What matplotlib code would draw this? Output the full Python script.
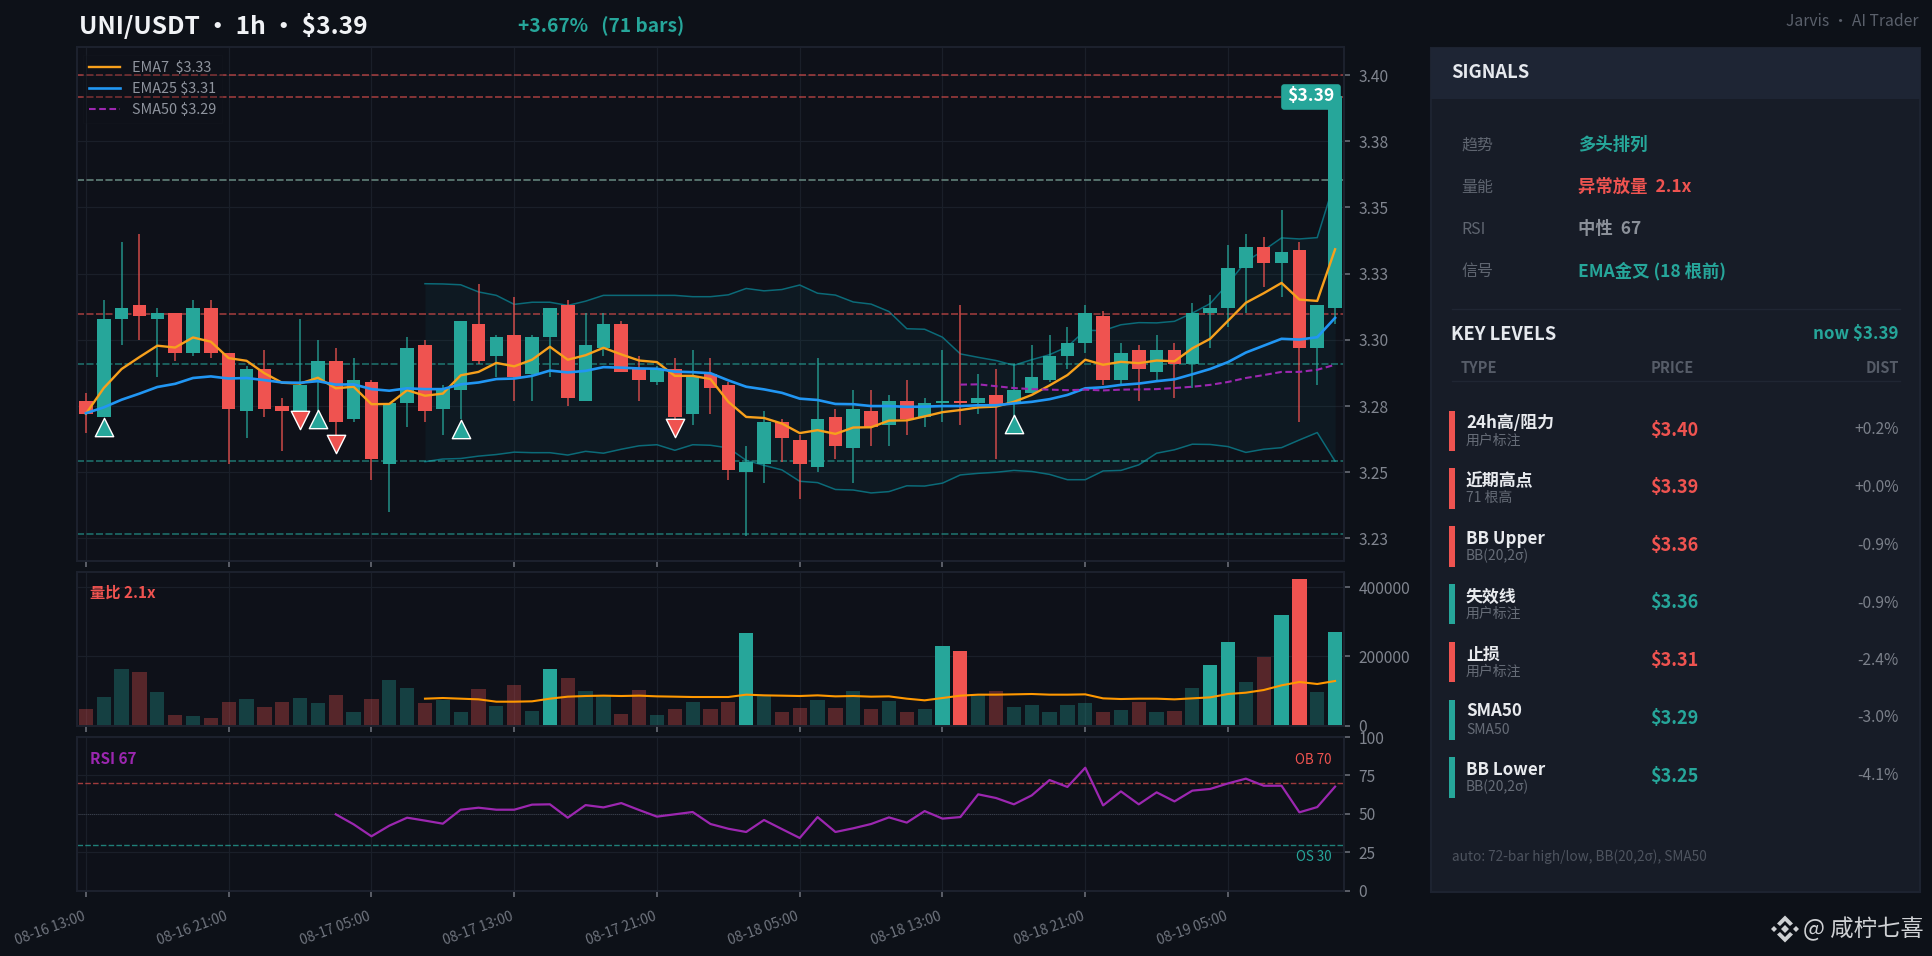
import numpy as np
import matplotlib
matplotlib.use('Agg')
import matplotlib.pyplot as plt
from matplotlib.colors import to_rgba
from matplotlib.patches import Rectangle, Polygon, FancyBboxPatch
from matplotlib.transforms import ScaledTranslation

plt.rcParams['font.family'] = ['Noto Sans CJK SC', 'DejaVu Sans']

# ---------- data ----------
opens = [3.277,3.271,3.308,3.313,3.308,3.310,3.295,3.312,3.295,3.273,3.289,3.275,3.273,3.284,3.292,3.270,3.284,3.253,3.276,3.298,
         3.274,3.281,3.306,3.294,3.302,3.287,3.301,3.313,3.277,3.297,3.306,3.289,3.284,3.289,3.272,3.287,3.283,3.250,3.253,3.269,
         3.262,3.252,3.271,3.259,3.273,3.268,3.277,3.271,3.276,3.277,3.276,3.279,3.276,3.280,3.285,3.294,3.299,3.309,3.285,3.296,
         3.288,3.296,3.291,3.310,3.312,3.327,3.335,3.329,3.334,3.297,3.312]
closes = [3.272,3.308,3.312,3.309,3.310,3.295,3.312,3.295,3.274,3.289,3.274,3.273,3.283,3.292,3.269,3.285,3.255,3.276,3.297,3.273,
          3.282,3.307,3.292,3.301,3.286,3.301,3.312,3.278,3.298,3.306,3.288,3.285,3.289,3.271,3.286,3.282,3.251,3.254,3.269,3.263,
          3.253,3.270,3.260,3.274,3.267,3.277,3.270,3.276,3.277,3.276,3.278,3.275,3.281,3.286,3.294,3.299,3.310,3.285,3.295,3.289,
          3.296,3.291,3.310,3.312,3.327,3.335,3.329,3.333,3.297,3.313,3.392]
highs = [3.280,3.315,3.337,3.340,3.312,3.310,3.315,3.315,3.295,3.290,3.296,3.278,3.308,3.300,3.297,3.293,3.285,3.276,3.301,3.300,
         3.283,3.307,3.321,3.302,3.316,3.302,3.312,3.315,3.310,3.310,3.307,3.294,3.290,3.293,3.296,3.293,3.284,3.260,3.273,3.270,
         3.264,3.293,3.274,3.281,3.281,3.279,3.285,3.278,3.296,3.313,3.287,3.289,3.291,3.298,3.302,3.305,3.313,3.311,3.299,3.298,
         3.302,3.299,3.314,3.317,3.336,3.340,3.339,3.349,3.337,3.313,3.392]
lows = [3.265,3.271,3.298,3.300,3.286,3.292,3.294,3.293,3.253,3.263,3.271,3.258,3.271,3.273,3.264,3.269,3.247,3.235,3.267,3.269,
        3.264,3.270,3.291,3.286,3.277,3.277,3.286,3.275,3.277,3.294,3.288,3.277,3.283,3.270,3.268,3.272,3.247,3.226,3.246,3.254,
        3.240,3.250,3.255,3.246,3.260,3.260,3.264,3.267,3.269,3.268,3.272,3.255,3.271,3.280,3.284,3.289,3.295,3.283,3.283,3.277,
        3.285,3.278,3.282,3.297,3.305,3.310,3.320,3.316,3.269,3.283,3.306]
ema7 = [3.2721,3.2818,3.2890,3.2935,3.2978,3.2971,3.3009,3.2993,3.2931,3.2921,3.2874,3.2838,3.2835,3.2857,3.2817,3.2823,3.2757,3.2758,3.2810,3.2789,
        3.2797,3.2866,3.2879,3.2913,3.2900,3.2925,3.2974,3.2925,3.2942,3.2970,3.2945,3.2922,3.2916,3.2864,3.2864,3.2852,3.2766,3.2709,3.2705,3.2684,
        3.2648,3.2659,3.2645,3.2669,3.2670,3.2695,3.2696,3.2711,3.2727,3.2735,3.2745,3.2748,3.2766,3.2792,3.2828,3.2867,3.2925,3.2906,3.2917,3.2912,
        3.2922,3.2919,3.2968,3.3004,3.3072,3.3140,3.3176,3.3215,3.3152,3.3147,3.3342]
ema25 = [3.2723,3.2745,3.2774,3.2797,3.2822,3.2834,3.2856,3.2862,3.2854,3.2856,3.2848,3.2839,3.2838,3.2844,3.2831,3.2832,3.2814,3.2808,3.2817,3.2814,
         3.2814,3.2832,3.2839,3.2852,3.2854,3.2864,3.2884,3.2877,3.2883,3.2897,3.2895,3.2892,3.2891,3.2880,3.2878,3.2874,3.2847,3.2823,3.2813,3.2800,
         3.2778,3.2773,3.2758,3.2757,3.2750,3.2750,3.2747,3.2748,3.2750,3.2750,3.2753,3.2753,3.2760,3.2766,3.2776,3.2792,3.2817,3.2821,3.2830,3.2835,
         3.2844,3.2851,3.2870,3.2890,3.2916,3.2952,3.2978,3.3004,3.3001,3.3010,3.3083]
sma50_start = 49
sma50 = [3.2831,3.2832,3.2825,3.2818,3.2814,3.2812,3.2810,3.2812,3.2809,3.2812,3.2813,3.2814,3.2818,3.2823,3.2830,3.2841,3.2856,3.2867,3.2879,3.2879,3.2887,3.2906]
bb_start = 19
bb_upper = [3.3212,3.3211,3.3208,3.3181,3.3168,3.3134,3.3142,3.3142,3.3130,3.3146,3.3168,3.3168,3.3168,3.3168,3.3168,3.3163,3.3163,3.3170,3.3194,3.3185,
            3.3190,3.3207,3.3176,3.3169,3.3143,3.3135,3.3107,3.3042,3.3040,3.3010,3.2947,3.2934,3.2922,3.2904,3.2925,3.2944,3.2974,3.3036,3.3035,3.3057,
            3.3065,3.3064,3.3070,3.3101,3.3137,3.3212,3.3296,3.3338,3.3385,3.3381,3.3386,3.3602]
bb_lower = [3.2540,3.2550,3.2552,3.2561,3.2567,3.2576,3.2574,3.2574,3.2565,3.2579,3.2572,3.2587,3.2600,3.2604,3.2583,3.2604,3.2602,3.2592,3.2545,3.2526,
            3.2509,3.2466,3.2461,3.2435,3.2433,3.2422,3.2427,3.2449,3.2448,3.2459,3.2490,3.2496,3.2500,3.2507,3.2503,3.2492,3.2472,3.2472,3.2505,3.2507,
            3.2528,3.2572,3.2585,3.2606,3.2605,3.2597,3.2575,3.2587,3.2593,3.2622,3.2650,3.2542]
volumes = [48200,82900,163900,155200,97400,30800,28000,22200,68400,77100,54000,68400,80000,65500,88700,39500,77100,132100,108900,65500,
           74200,39500,106000,56900,117600,42400,163900,137800,100200,85800,33700,103100,30800,48200,68400,48200,68400,268000,85800,39500,
           51100,74200,51100,100200,48200,71300,39500,48200,230400,215900,88700,100200,54000,59800,39500,59800,65500,39500,45300,68400,
           39500,42400,108900,175400,241900,126300,198600,320000,424100,97400,270900]
vol_ma_start = 19
vol_ma = [78100,80000,78100,76200,69400,69400,70400,78100,83900,85800,86800,85800,86800,84800,83900,82900,82900,82900,89700,
          87700,86800,85800,87700,84800,85800,83900,84800,78100,73300,80000,86800,89700,89700,90600,91600,89700,89700,90600,79000,77100,
          78100,78100,76200,79000,81900,91600,95400,103100,116600,126300,120500,129200]
rsi_start = 14
rsi = [49.7,43.2,35.4,42.3,47.5,45.6,43.6,52.7,54.0,52.7,52.7,56.0,56.2,47.5,55.7,54.2,57.0,52.5,48.2,49.7,51.2,43.4,40.3,38.2,
       46.0,40.1,34.3,47.9,38.2,40.6,43.4,47.7,44.3,51.8,46.9,47.9,62.7,60.3,56.2,62.0,72.0,67.5,80.0,55.5,64.6,56.2,64.0,58.1,65.1,66.2,69.8,72.9,68.3,68.3,51.0,54.4,67.7]
buy_idx = [1, 13, 21, 52]
buy_price = [3.2672, 3.2701, 3.2665, 3.2684]
sell_idx = [12, 14, 33]
sell_price = [3.2696, 3.2606, 3.2666]
red_levels = [3.400, 3.3917, 3.3602, 3.3097]
green_levels = [3.3602, 3.2909, 3.2542, 3.2268]
price_ticks = [3.225, 3.25, 3.275, 3.30, 3.325, 3.35, 3.375, 3.40]
price_labels = ['3.23', '3.25', '3.28', '3.30', '3.33', '3.35', '3.38', '3.40']
x_ticks = [0, 8, 16, 24, 32, 40, 48, 56, 64]
x_labels = ['08-16 13:00', '08-16 21:00', '08-17 05:00', '08-17 13:00', '08-17 21:00', '08-18 05:00', '08-18 13:00', '08-18 21:00', '08-19 05:00']
signal_keys = ['趋势', '量能', 'RSI', '信号']
signal_vals = ['多头排列', '异常放量  2.1x', '中性  67', 'EMA金叉 (18 根前)']
level_names = ['24h高/阻力', '近期高点', 'BB Upper', '失效线', '止损', 'SMA50', 'BB Lower']
level_subs = ['用户标注', '71 根高', 'BB(20,2σ)', '用户标注', '用户标注', 'SMA50', 'BB(20,2σ)']
level_prices = ['$3.40', '$3.39', '$3.36', '$3.36', '$3.31', '$3.29', '$3.25']
level_dists = ['+0.2%', '+0.0%', '-0.9%', '-0.9%', '-2.4%', '-3.0%', '-4.1%']
level_sides = ['r', 'r', 'r', 'g', 'r', 'g', 'g']

# ---------- style ----------
W, H = 1933, 956
BG = '#0d1118'; AX = '#0e1119'; GRID = '#1a1f29'; SPINE = '#1d222e'
UP = '#26a69a'; DN = '#ef5350'; ORANGE = '#f7a01c'; BLUE = '#2196f3'; PURPLE = '#9c27b0'; BBC = '#0b6a78'
TICK = '#80858f'; LABEL = '#8f949e'
PANEL = '#171c27'; HEAD = '#1e2534'; PANEL_EDGE = '#1d2330'

fig = plt.figure(figsize=(W/100, H/100), dpi=100, facecolor=BG)

ov = fig.add_axes([0, 0, 1, 1], zorder=0)
ov.set_xlim(0, W); ov.set_ylim(H, 0); ov.axis('off')

def make_ax(top, bottom):
    l, r = 77, 1344
    ax = fig.add_axes([l/W, 1-bottom/H, (r-l)/W, (bottom-top)/H], facecolor=AX, zorder=2)
    for s in ax.spines.values():
        s.set_color(SPINE); s.set_linewidth(1.4)
    ax.yaxis.tick_right()
    ax.set_xlim(-0.5, 70.5)
    ax.set_xticks(x_ticks)
    ax.set_xticklabels([])
    ax.tick_params(axis='both', length=4.5, width=1.1, color='#6f747d', labelcolor=TICK, labelsize=11.2, pad=6)
    ax.grid(True, color=GRID, lw=0.85)
    ax.set_axisbelow(True)
    return ax

x = np.arange(len(closes))
is_up = np.array(closes) >= np.array(opens)
col = [UP if u else DN for u in is_up]

# ---------- main ----------
ax = make_ax(47.2, 561)
ax.set_ylim(3.2165, 3.4105)
ax.set_yticks(price_ticks); ax.set_yticklabels(price_labels)
xb = np.arange(bb_start, 71)
ax.fill_between(xb, bb_lower, bb_upper, color='#17808c', alpha=0.08, lw=0, zorder=1)
ax.plot(xb, bb_upper, color=BBC, lw=1.1, zorder=1.5)
ax.plot(xb, bb_lower, color=BBC, lw=1.1, zorder=1.5)
for v in red_levels:
    ax.axhline(v, color=DN, lw=1.2, ls=(0, (4.2, 1.5)), alpha=0.62, zorder=1.6)
for v in green_levels:
    ax.axhline(v, color=UP, lw=1.2, ls=(0, (4.2, 1.5)), alpha=0.62, zorder=1.6)
ax.vlines(x, lows, highs, colors=col, lw=1.1, alpha=0.85, zorder=2)
ax.bar(x, np.abs(np.array(closes)-np.array(opens)), bottom=np.minimum(opens, closes), width=0.76, color=col, lw=0, zorder=3)
ax.plot(x, ema7, color=ORANGE, lw=1.7, zorder=4, label='EMA7  $3.33', solid_joinstyle='round')
ax.plot(x, ema25, color=BLUE, lw=1.9, zorder=4, label='EMA25 $3.31')
ax.plot(np.arange(sma50_start, 71), sma50, color=PURPLE, lw=1.5, ls=(0, (3.2, 1.7)), zorder=4, label='SMA50 $3.29')
ax.scatter(buy_idx, buy_price, marker='^', s=175, color=UP, edgecolor='white', lw=1, zorder=6)
ax.scatter(sell_idx, sell_price, marker='v', s=175, color=DN, edgecolor='white', lw=1, zorder=6)
leg = ax.legend(loc='upper left', fontsize=10.4, frameon=True, facecolor=AX, edgecolor='#161a23', framealpha=0.25,
                labelcolor=LABEL, borderaxespad=0, bbox_to_anchor=(0.0047, 0.985), handlelength=2.17,
                labelspacing=0.5, handletextpad=0.81, fancybox=False)
leg.set_zorder(7)
ax.add_patch(FancyBboxPatch((1284, 87), 54, 20, boxstyle='round,pad=2.8,rounding_size=3', transform=ov.transData,
                            fc=UP, ec='none', zorder=8, clip_on=False))
ax.text(1311, 96, '$3.39', transform=ov.transData, ha='center', va='center', color='white',
        fontsize=12.6, fontweight='bold', zorder=9, clip_on=False)

# ---------- volume ----------
ax2 = make_ax(571.7, 725.7)
ax2.set_ylim(0, 445000)
ax2.set_yticks([0, 200000, 400000]); ax2.set_yticklabels(['0', '200000', '400000'])
ma_full = np.full(71, np.nan); ma_full[vol_ma_start:] = vol_ma
bright = np.array(volumes) > 2*np.nan_to_num(ma_full, nan=1e12)
vol_colors = [to_rgba(c, 1.0 if b else 0.32) for c, b in zip(col, bright)]
ax2.bar(x, volumes, width=0.8, color=vol_colors, lw=0, zorder=2)
ax2.plot(np.arange(vol_ma_start, 71), vol_ma, color='#ff9800', lw=1.5, zorder=3)
ax2.text(0.0104, 0.865, '量比 2.1x', transform=ax2.transAxes, color=DN, fontsize=11, fontweight='bold', va='center', ha='left')

# ---------- rsi ----------
ax3 = make_ax(737, 890.7)
ax3.set_ylim(0, 100)
ax3.set_yticks([0, 25, 50, 75, 100])
ax3.axhline(70, color=DN, lw=1.0, ls=(0, (4, 1.6)), alpha=0.65, zorder=1.6)
ax3.axhline(30, color=UP, lw=1.0, ls=(0, (4, 1.6)), alpha=0.75, zorder=1.6)
ax3.axhline(50, color='#6b7280', lw=0.6, ls=(0, (1, 1.5)), alpha=0.55, zorder=1.6)
ax3.plot(np.arange(rsi_start, 71), rsi, color=PURPLE, lw=1.6, zorder=3)
ax3.text(0.0104, 0.855, 'RSI 67', transform=ax3.transAxes, color=PURPLE, fontsize=11, fontweight='bold', va='center', ha='left')
ax3.text(69.8, 85, 'OB 70', color=DN, fontsize=9.6, ha='right', va='center')
ax3.text(69.8, 22, 'OS 30', color=UP, fontsize=9.6, ha='right', va='center')
ax3.set_xticklabels(x_labels, rotation=20, ha='right', rotation_mode='anchor', fontsize=10, color='#70757f')
ax3.tick_params(axis='x', pad=9)
for lab in ax3.get_xticklabels():
    lab.set_transform(lab.get_transform() + ScaledTranslation(-0.037, 0, fig.dpi_scale_trans))

# ---------- header ----------
def T(px, py, s, **kw):
    kw.setdefault('va', 'center'); kw.setdefault('ha', 'left')
    ov.text(px, py, s, **kw)

T(79, 26, 'UNI/USDT · 1h · $3.39', color='#f0f2f5', fontsize=17.7, fontweight='bold')
T(518, 26, '+3.67%   (71 bars)', color=UP, fontsize=13.8, fontweight='bold')
T(1919, 21, 'Jarvis · AI Trader', color='#5a606b', fontsize=11.3, ha='right')

# ---------- side panel ----------
ov.add_patch(Rectangle((1431, 47.5), 489, 844, fc=PANEL, ec=PANEL_EDGE, lw=1.5))
ov.add_patch(Rectangle((1431, 47.5), 489, 51.5, fc=HEAD, ec='none'))
T(1451.5, 72.5, 'SIGNALS', color='#e6e9ee', fontsize=13.2, fontweight='bold')
sig_y = [144.7, 187, 229, 271]
sig_c = [UP, DN, '#8b9099', UP]
for k, v, y, c in zip(signal_keys, signal_vals, sig_y, sig_c):
    T(1461, y, k, color='#5f6570', fontsize=11.5)
    T(1578, y, v, color=c, fontsize=12.5, fontweight='bold')
ov.plot([1452, 1900], [309, 309], color='#202633', lw=1)
T(1451.5, 334, 'KEY LEVELS', color='#e6e9ee', fontsize=13.2, fontweight='bold')
T(1899, 334, 'now $3.39', color=UP, fontsize=12.2, fontweight='bold', ha='right')
T(1461, 368, 'TYPE', color='#565c68', fontsize=10.5, fontweight='bold')
T(1651, 368, 'PRICE', color='#565c68', fontsize=10.5, fontweight='bold')
T(1899, 368, 'DIST', color='#565c68', fontsize=10.5, fontweight='bold', ha='right')
ov.plot([1452, 1900], [381, 381], color='#202633', lw=1)
row_top = [411, 468, 526, 584, 642, 700, 757]
row_bot = [451, 509, 567, 624, 682, 740, 798]
row_name = [422.7, 481, 538.5, 596.7, 654.5, 711.5, 770]
row_sub = [441, 498, 556, 614, 672, 729.7, 787]
row_price = [430, 487.3, 545.7, 603, 660.7, 718, 776]
for i in range(7):
    c = DN if level_sides[i] == 'r' else UP
    ov.add_patch(Rectangle((1449, row_top[i]), 6, row_bot[i]-row_top[i], fc=c, ec='none'))
    T(1466, row_name[i], level_names[i], color='#e8eaee', fontsize=12.2, fontweight='bold')
    T(1466, row_sub[i], level_subs[i], color='#666c77', fontsize=10)
    T(1650, row_price[i], level_prices[i], color=c, fontsize=13, fontweight='bold')
    T(1899, row_price[i], level_dists[i], color='#7b808a', fontsize=11.2, ha='right')
T(1452, 856.7, 'auto: 72-bar high/low, BB(20,2σ), SMA50', color='#4d535e', fontsize=9.8)

# ---------- watermark ----------
wc = '#cfd1d4'
cx, cy = 1785, 929
def dia(x0, y0, r):
    ov.add_patch(Polygon([(x0-r, y0), (x0, y0-r), (x0+r, y0), (x0, y0+r)], fc=wc, ec='none'))
dia(cx, cy, 4); dia(cx-11, cy, 3); dia(cx+11, cy, 3)
for sgn in (-1, 1):
    ov.add_patch(Polygon([(cx-8, cy+sgn*5.5), (cx, cy+sgn*13.5), (cx+8, cy+sgn*5.5), (cx+5, cy+sgn*3), (cx, cy+sgn*8), (cx-5, cy+sgn*3)], fc=wc, ec='none'))
T(1803, 929, '@ 咸柠七喜', color=wc, fontsize=16.8)

fig.savefig('out.png', dpi=100, facecolor=BG)
